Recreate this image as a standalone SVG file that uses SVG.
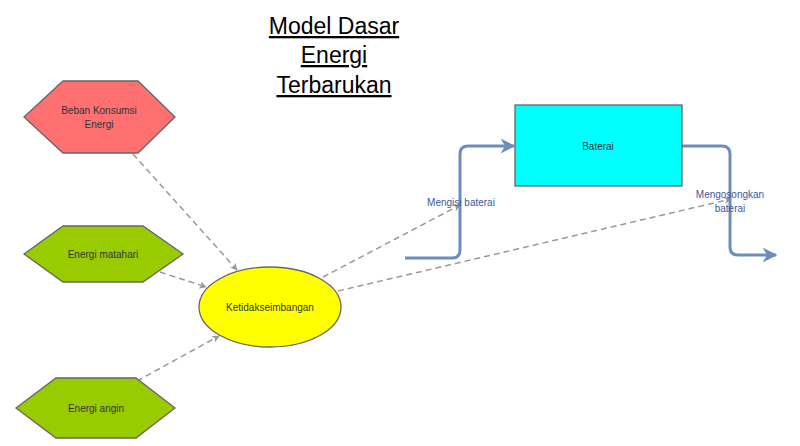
<svg xmlns="http://www.w3.org/2000/svg" width="800" height="446" viewBox="0 0 800 446">
<defs>
<marker id="ga" viewBox="0 0 10 10" refX="9" refY="5" markerWidth="5" markerHeight="5" orient="auto"><path d="M0,0 L10,5 L0,10 L3,5 z" fill="#999"/></marker>
<marker id="ba" viewBox="0 0 10 10" refX="9" refY="5" markerWidth="5" markerHeight="5" orient="auto"><path d="M0,0 L10,5 L0,10 L3,5 z" fill="#6c8ebf"/></marker>
</defs>
<style>
text{font-family:"Liberation Sans",sans-serif;font-size:10px;fill:#333;text-anchor:middle}
.t{font-size:23px;fill:#000;text-decoration:underline}
.l{fill:#3a5a9a}
.s{stroke:#666;stroke-width:1.3}
.d{fill:none;stroke:#999;stroke-width:1.5;stroke-dasharray:6 4;marker-end:url(#ga)}
.b{fill:none;stroke:#6c8ebf;stroke-width:3;marker-end:url(#ba)}
</style>
<rect width="800" height="446" fill="#fff"/>
<g id="title"><text class="t" x="334" y="34">Model Dasar</text><text class="t" x="334" y="63">Energi</text><text class="t" x="334" y="93">Terbarukan</text></g>
<g id="connectors">
<path class="d" d="M133,154 L237,270"/>
<path class="d" d="M160,272 L206,287"/>
<path class="d" d="M137,381 L219,336"/>
<path class="d" d="M323,277 L460,205"/>
<path class="d" d="M338,291 L731,199"/>
<path class="b" d="M405,258 H452 Q460,258 460,250 V154 Q460,146 468,146 H514"/>
<path class="b" d="M682,146 H722 Q730,146 730,154 V247 Q730,255 738,255 H776"/>
<text class="l" x="461" y="206">Mengisi baterai</text>
<text class="l" x="730" y="198">Mengosongkan</text>
<text class="l" x="730" y="212">baterai</text>
</g>
<g id="beban"><polygon class="s" fill="#ff7070" points="24,117 63,81 138,81 175,117 138,153 63,153"/><text x="99" y="114">Beban Konsumsi</text><text x="99" y="128">Energi</text></g>
<g id="matahari"><polygon class="s" fill="#99cc00" points="24,254 63,226 143,226 183,254 143,282 63,282"/><text x="103" y="258">Energi matahari</text></g>
<g id="angin"><polygon class="s" fill="#99cc00" points="16,408 56,378 136,378 175,408 136,438 56,438"/><text x="96" y="412">Energi angin</text></g>
<g id="ketidak"><ellipse class="s" fill="#ffff00" cx="270" cy="307" rx="71" ry="40"/><text x="270" y="311">Ketidakseimbangan</text></g>
<g id="baterai"><rect class="s" fill="#00ffff" x="515" y="105" width="167" height="81"/><text x="598" y="150">Baterai</text></g>
</svg>
